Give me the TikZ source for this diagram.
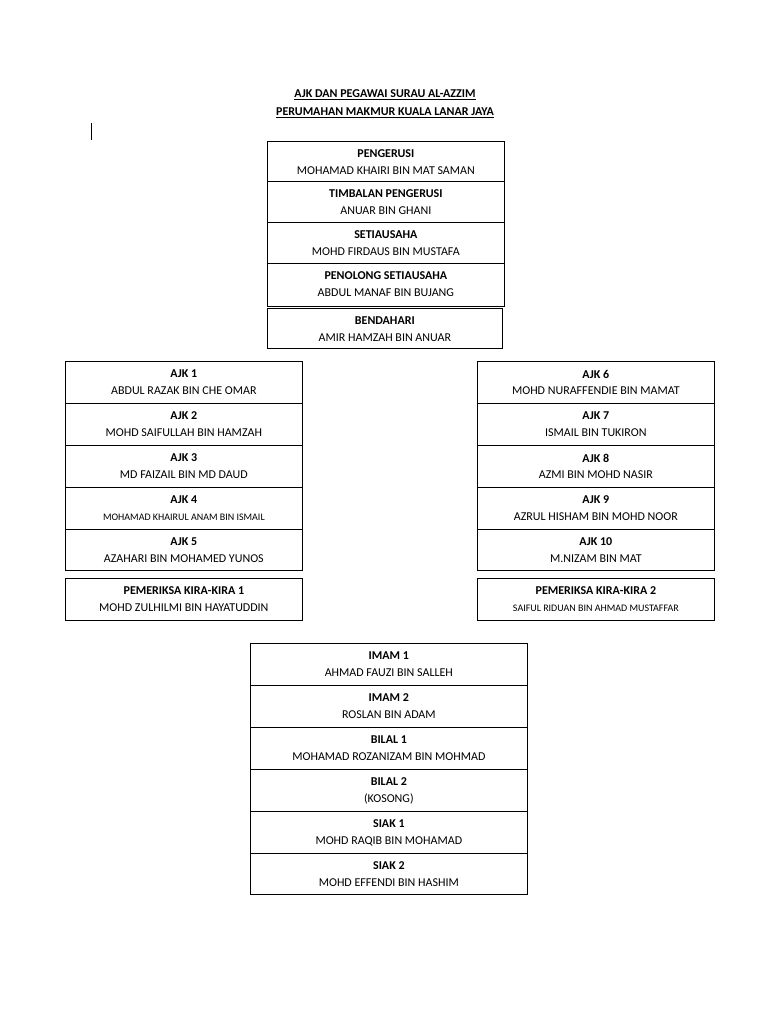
\documentclass[tikz,border=0pt]{standalone}
\usepackage{fontspec}
\setmainfont{Carlito}
\usetikzlibrary{calc}
\begin{document}
\begin{tikzpicture}[x=1pt,y=-1pt,
  boxs/.style={draw,line width=0.7pt,inner sep=0pt,anchor=north west},
  lab/.style={font=\fontsize{12}{14}\selectfont\bfseries},
  nam/.style={font=\fontsize{12}{14}\selectfont},
  sml/.style={font=\fontsize{10}{12}\selectfont}]
\useasboundingbox (0,0) rectangle (768,1024);
\newcommand\bx[8]{%
  \node[boxs,minimum width=#4-#2,minimum height=#5-#3] (#1) at (#2,#3) {};
  \node[lab] (#1l) at ($(#1.north)+(0,13)$) {#6};
  \node[#8] (#1n) at ($(#1.north)+(0,30)$) {#7};}
\node[font=\fontsize{12}{14}\selectfont\bfseries] (t1) at (385,95) {\underline{AJK DAN PEGAWAI SURAU AL-AZZIM}};
\node[font=\fontsize{12}{14}\selectfont\bfseries] (t2) at (385,113) {\underline{PERUMAHAN MAKMUR KUALA LANAR JAYA}};
\coordinate (ca) at (91,123); \coordinate (cb) at (91,140);
\draw[line width=0.8pt] (ca) -- (cb);
\bx{p1}{267}{141}{504}{181}{PENGERUSI}{MOHAMAD KHAIRI BIN MAT SAMAN}{nam}
\bx{p2}{267}{181}{504}{222}{TIMBALAN PENGERUSI}{ANUAR BIN GHANI}{nam}
\bx{p3}{267}{222}{504}{263}{SETIAUSAHA}{MOHD FIRDAUS BIN MUSTAFA}{nam}
\bx{p4}{267}{263}{504}{306}{PENOLONG SETIAUSAHA}{ABDUL MANAF BIN BUJANG}{nam}
\bx{p5}{267}{308}{502}{348}{BENDAHARI}{AMIR HAMZAH BIN ANUAR}{nam}
\bx{a1}{65}{361}{302}{403}{AJK 1}{ABDUL RAZAK BIN CHE OMAR}{nam}
\bx{a2}{65}{403}{302}{445}{AJK 2}{MOHD SAIFULLAH BIN HAMZAH}{nam}
\bx{a3}{65}{445}{302}{487}{AJK 3}{MD FAIZAIL BIN MD DAUD}{nam}
\bx{a4}{65}{487}{302}{529}{AJK 4}{MOHAMAD KHAIRUL ANAM BIN ISMAIL}{sml}
\bx{a5}{65}{529}{302}{570}{AJK 5}{AZAHARI BIN MOHAMED YUNOS}{nam}
\bx{pk1}{65}{578}{302}{620}{PEMERIKSA KIRA-KIRA 1}{MOHD ZULHILMI BIN HAYATUDDIN}{nam}
\bx{a6}{477}{361}{714}{403}{AJK 6}{MOHD NURAFFENDIE BIN MAMAT}{nam}
\bx{a7}{477}{403}{714}{445}{AJK 7}{ISMAIL BIN TUKIRON}{nam}
\bx{a8}{477}{445}{714}{487}{AJK 8}{AZMI BIN MOHD NASIR}{nam}
\bx{a9}{477}{487}{714}{529}{AJK 9}{AZRUL HISHAM BIN MOHD NOOR}{nam}
\bx{a10}{477}{529}{714}{570}{AJK 10}{M.NIZAM BIN MAT}{nam}
\bx{pk2}{477}{578}{714}{620}{PEMERIKSA KIRA-KIRA 2}{SAIFUL RIDUAN BIN AHMAD MUSTAFFAR}{sml}
\bx{b1}{250}{643}{527}{685}{IMAM 1}{AHMAD FAUZI BIN SALLEH}{nam}
\bx{b2}{250}{685}{527}{727}{IMAM 2}{ROSLAN BIN ADAM}{nam}
\bx{b3}{250}{727}{527}{769}{BILAL 1}{MOHAMAD ROZANIZAM BIN MOHMAD}{nam}
\bx{b4}{250}{769}{527}{811}{BILAL 2}{(KOSONG)}{nam}
\bx{b5}{250}{811}{527}{853}{SIAK 1}{MOHD RAQIB BIN MOHAMAD}{nam}
\bx{b6}{250}{853}{527}{894}{SIAK 2}{MOHD EFFENDI BIN HASHIM}{nam}
\end{tikzpicture}
\end{document}
